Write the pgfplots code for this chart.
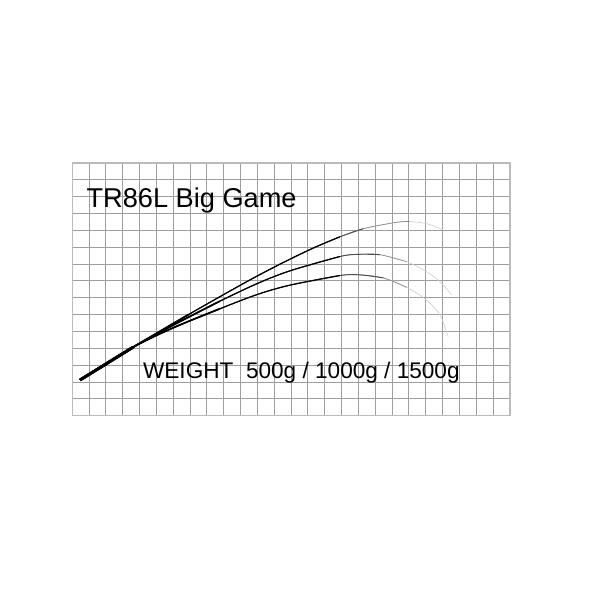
\documentclass[border=0pt]{standalone}
\usepackage{pgfplots}
\pgfplotsset{compat=1.18}
\usepackage{pgfplotstable}
\usepackage{fontspec}
\setmainfont{Liberation Sans}

\definecolor{gridgray}{gray}{0.62}

% rod curves, in grid cells (26 x 15)
\pgfplotstableread{
x y
0.46 2.12
3.60 4.06
6.90 6.00
10.17 7.85
12.15 8.90
14.20 9.90
15.90 10.62
17.28 11.10
19.26 11.48
20.05 11.52
21.04 11.40
22.03 11.03
}\toprod
\pgfplotstableread{
x y
0.46 2.12
3.60 4.06
6.00 5.38
8.77 6.80
11.00 7.85
12.93 8.60
15.90 9.45
17.08 9.58
18.27 9.56
19.86 9.14
21.04 8.55
21.84 7.96
22.53 7.17
}\midrod
\pgfplotstableread{
x y
0.46 2.12
3.60 4.06
6.00 5.22
8.77 6.35
11.00 7.20
12.93 7.75
15.90 8.32
17.08 8.36
18.47 8.18
19.86 7.62
21.04 6.87
21.84 5.98
22.33 4.69
}\lowrod

% one rod: whole curve thin and pale, then shorter and shorter
% stretches from the butt laid over it, each thicker and darker
\newcommand\rod[1]{%
  \addplot[black!20, line width=0.3pt, smooth] table {#1};
  \addplot[black!45, line width=0.35pt, smooth, restrict x to domain=0:20.1] table {#1};
  \addplot[black!70, line width=0.45pt, smooth, restrict x to domain=0:18.5] table {#1};
  \addplot[black, line width=0.6pt, smooth, restrict x to domain=0:16] table {#1};
  \addplot[black, line width=0.85pt, smooth, restrict x to domain=0:9] table {#1};
  \addplot[black, line width=1.4pt, smooth, restrict x to domain=0:3.7] table {#1};
}

\begin{document}
\begin{tikzpicture}
\useasboundingbox (0,0) rectangle (300pt,300pt);
\begin{axis}[
  at={(36.15pt,92.15pt)}, anchor=south west,
  scale only axis,
  width=218.85pt, height=126.35pt,
  xmin=0, xmax=26, ymin=0, ymax=15,
  xtick={0,...,26}, ytick={0,...,15},
  xticklabels={}, yticklabels={},
  major tick length=0pt,
  grid=major,
  major grid style={gridgray, line width=0.5pt},
  axis line style={gridgray!70, line width=0.6pt},
  clip=false,
]
  \rod{\toprod}
  \rod{\midrod}
  \rod{\lowrod}
  \node[anchor=base west, inner sep=0pt, font=\fontsize{13.6pt}{16pt}\selectfont] at (axis cs:0.82,12.38) {TR86L Big Game};
  \node[anchor=base west, inner sep=0pt, font=\fontsize{11.3pt}{14pt}\selectfont] at (axis cs:4.18,2.18) {WEIGHT\ \ 500g / 1000g / 1500g};
\end{axis}
\end{tikzpicture}
\end{document}
